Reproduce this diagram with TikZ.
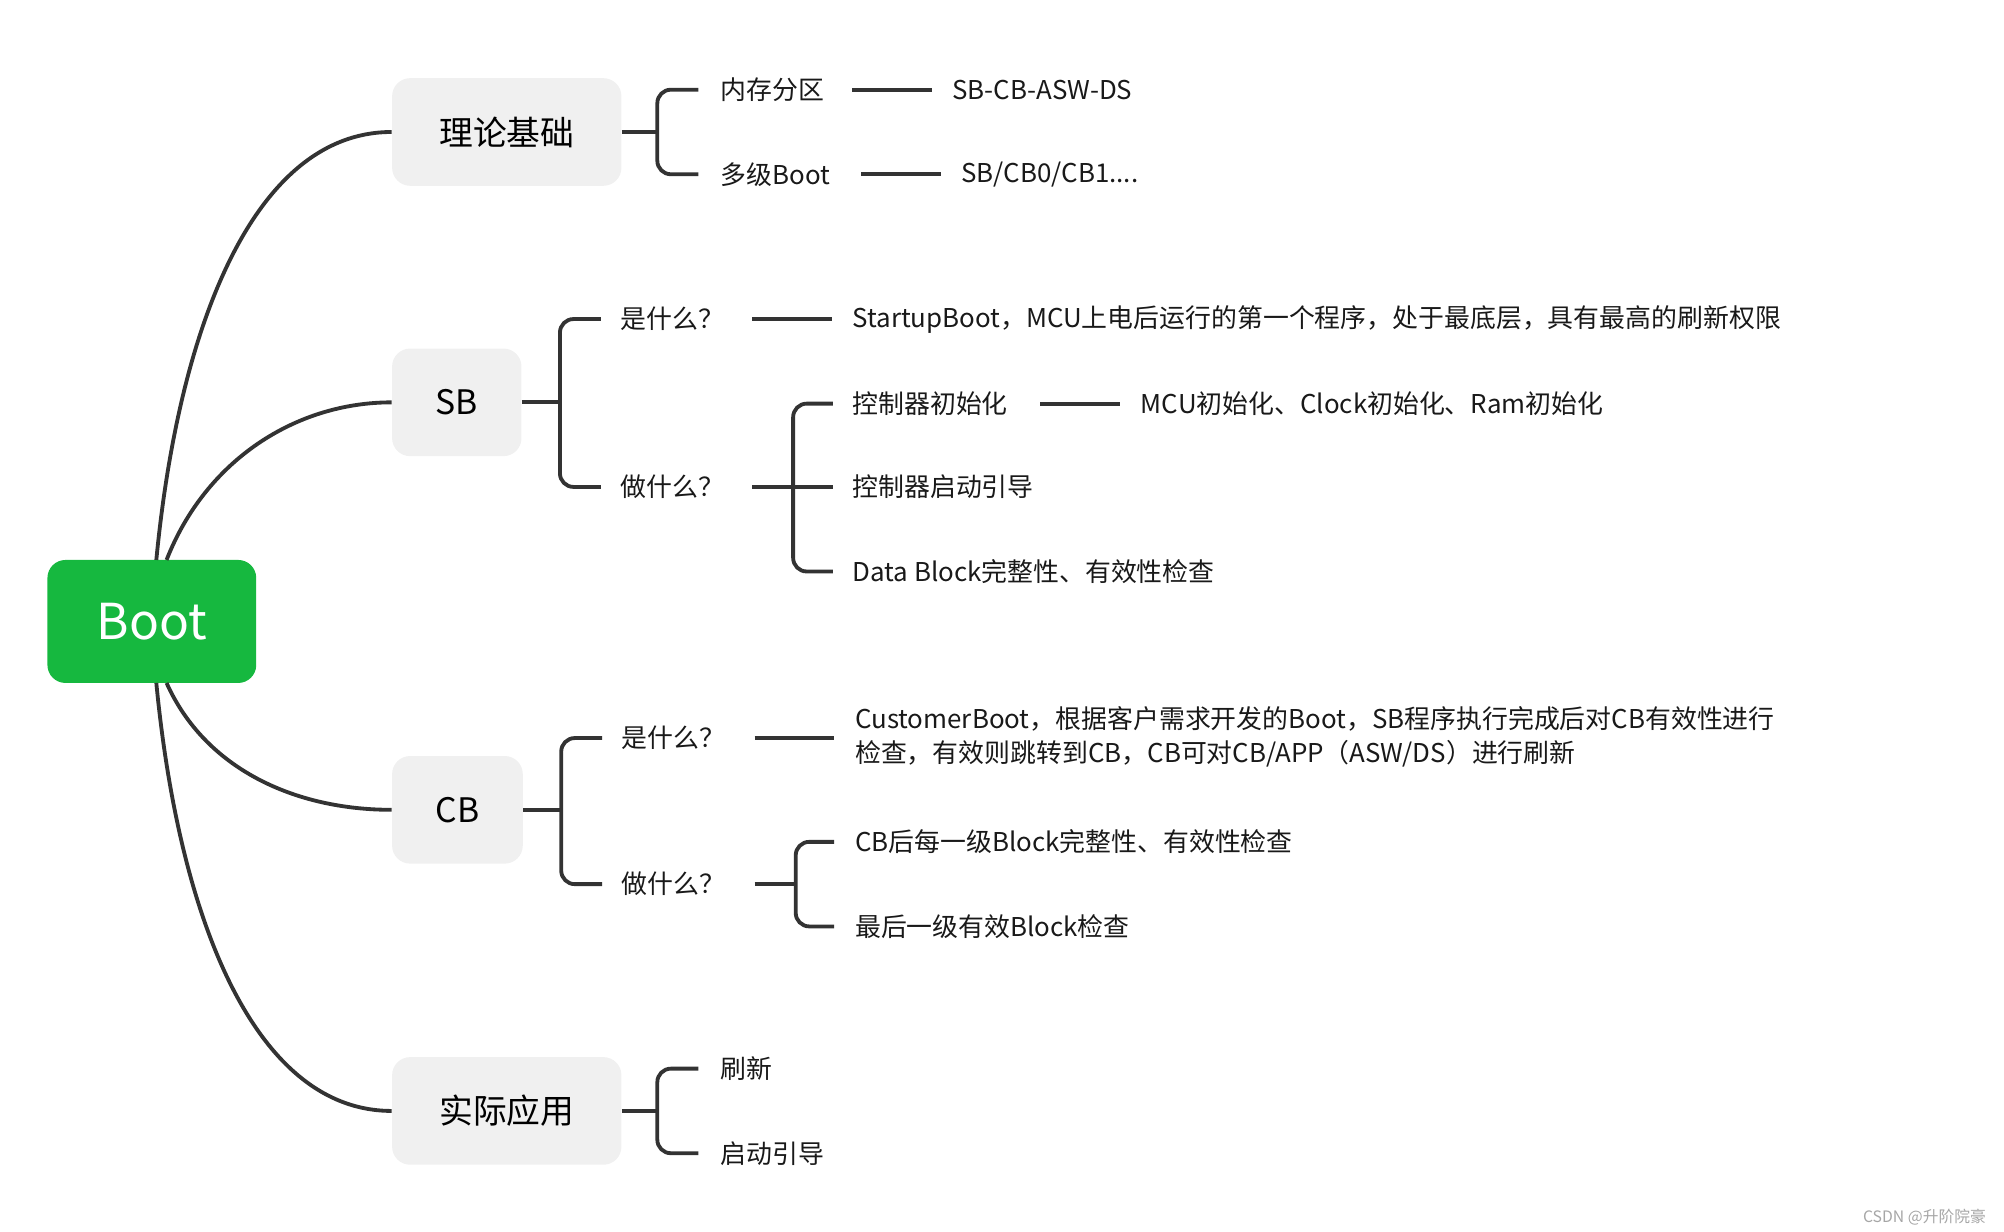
\documentclass[tikz,border=0pt]{standalone}
\usepackage{fontspec}
\setmainfont{Noto Sans CJK SC}
\begin{document}
\begin{tikzpicture}[x=0.02cm,y=-0.02cm,
  ln/.style={draw=black!80,line width=1.7pt},
  br/.style={ln,rounded corners=6pt},
  box/.style={fill=gray!12,rounded corners=8pt},
  t/.style={anchor=west,inner sep=0pt,font=\fontsize{11.5}{14}\selectfont,text=black!90}]
\useasboundingbox (0,0) rectangle (1564,961);
% main nodes
\node[fill={rgb,255:red,22;green,184;blue,63},rounded corners=8pt,minimum width=3.26cm,minimum height=1.92cm,text=white,font=\fontsize{22}{26}\selectfont] (boot) at (118.5,485) {Boot};
\node[box,minimum width=3.58cm,minimum height=1.68cm,font=\fontsize{15}{18}\selectfont] (l1) at (395.5,103) {理论基础};
\node[box,minimum width=2.02cm,minimum height=1.68cm,font=\fontsize{15}{18}\selectfont] (sb) at (356.5,314) {SB};
\node[box,minimum width=2.04cm,minimum height=1.68cm,font=\fontsize{15}{18}\selectfont] (cb) at (357,632) {CB};
\node[box,minimum width=3.58cm,minimum height=1.68cm,font=\fontsize{15}{18}\selectfont] (app) at (395.5,867) {实际应用};
\coordinate (bt1) at (122,437); \coordinate (bt2) at (130,437);
\coordinate (bb1) at (130,533); \coordinate (bb2) at (122,533);
\draw[ln] (bt1) .. controls (140,250) and (200,103) .. (l1.west);
\draw[ln] (bt2) .. controls (160,360) and (230,314) .. (sb.west);
\draw[ln] (bb1) .. controls (160,600) and (230,632) .. (cb.west);
\draw[ln] (bb2) .. controls (140,720) and (200,867) .. (app.west);
% theory
\node[t] (a1) at (562,70) {内存分区};
\node[t] (a1b) at (743,70) {SB-CB-ASW-DS};
\node[t] (a2) at (562,136) {多级Boot};
\node[t] (a2b) at (750,136) {SB/CB0/CB1....};
\draw[ln] (l1.east) -- (513,103);
\draw[br] (545,70) -- (513,70) -- (513,136) -- (545,136);
\draw[ln] (665,70) -- (727,70);
\draw[ln] (672,136) -- (734,136);
% SB
\node[t] (s1) at (484,249) {是什么？};
\node[t] (s1b) at (665,249) {StartupBoot，MCU上电后运行的第一个程序，处于最底层，具有最高的刷新权限};
\node[t] (s2) at (484,380) {做什么？};
\node[t] (s21) at (665,315) {控制器初始化};
\node[t] (s21b) at (890,315) {MCU初始化、Clock初始化、Ram初始化};
\node[t] (s22) at (665,380) {控制器启动引导};
\node[t] (s23) at (665,446) {Data Block完整性、有效性检查};
\draw[ln] (sb.east) -- (437,314);
\draw[br] (469,249) -- (437,249) -- (437,380) -- (469,380);
\draw[ln] (587,249) -- (649,249);
\draw[ln] (587,380) -- (650,380);
\draw[br] (650,315) -- (619,315) -- (619,446) -- (650,446);
\draw[ln] (812,315) -- (874,315);
% CB
\node[t] (c1) at (485,576) {是什么？};
\node[t,align=left] (c1b) at (667,575) {CustomerBoot，根据客户需求开发的Boot，SB程序执行完成后对CB有效性进行\\[1pt]检查，有效则跳转到CB，CB可对CB/APP（ASW/DS）进行刷新};
\node[t] (c2) at (485,690) {做什么？};
\node[t] (c21) at (667,657) {CB后每一级Block完整性、有效性检查};
\node[t] (c22) at (667,723) {最后一级有效Block检查};
\draw[ln] (cb.east) -- (438,632);
\draw[br] (470,576) -- (438,576) -- (438,690) -- (470,690);
\draw[ln] (589,576) -- (651,576);
\draw[ln] (589,690) -- (621,690);
\draw[br] (651,657) -- (621,657) -- (621,723) -- (651,723);
% app
\node[t] (p1) at (562,834) {刷新};
\node[t] (p2) at (562,900) {启动引导};
\draw[ln] (app.east) -- (513,867);
\draw[br] (545,834) -- (513,834) -- (513,900) -- (545,900);
\node[anchor=east,font=\fontsize{7}{8}\selectfont,text=gray!70] (wm) at (1556,950) {CSDN @升阶院豪};
\end{tikzpicture}
\end{document}
